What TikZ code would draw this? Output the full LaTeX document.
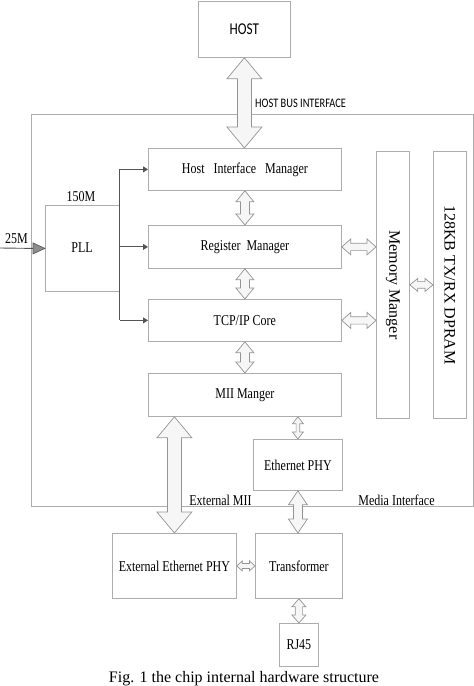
\documentclass[tikz,border=0pt]{standalone}
\usepackage{fontspec}
\setmainfont[FakeStretch=0.8]{Liberation Serif}
\newfontfamily\plainserif{Liberation Serif}
\newfontfamily\condsans[FakeStretch=0.8]{Carlito}
\usetikzlibrary{calc,arrows.meta}
\definecolor{boxc}{gray}{0.68}
\definecolor{arrc}{gray}{0.58}
\definecolor{arrf}{gray}{0.965}
\definecolor{clkc}{gray}{0.33}
\definecolor{trif}{gray}{0.55}
\tikzset{
  box/.style={draw=boxc, line width=0.8pt, inner sep=0pt, anchor=north west, font=\fontsize{15}{18}\selectfont},
  lbl/.style={inner sep=0pt, font=\fontsize{15}{18}\selectfont},
  rlbl/.style={inner sep=0pt, rotate=-90, font=\plainserif\fontsize{16}{19}\selectfont},
  darr/.style={draw=arrc, fill=arrf, line width=0.7pt, line join=miter},
  clkline/.style={draw=clkc, line width=0.9pt},
  clk/.style={draw=clkc, line width=0.9pt, -{Triangle[length=5pt,width=6pt]}},
}
% vertical double arrow: #1 top point, #2 bottom point, #3 half head, #4 half shaft, #5 head length
\newcommand\vdarrow[5]{%
  \path[darr] let \p1=(#1), \p2=(#2) in
    (\x1,\y1) -- (\x1+#3pt,\y1-#5pt) -- (\x1+#4pt,\y1-#5pt) -- (\x1+#4pt,\y2+#5pt) -- (\x1+#3pt,\y2+#5pt)
    -- (\x1,\y2) -- (\x1-#3pt,\y2+#5pt) -- (\x1-#4pt,\y2+#5pt) -- (\x1-#4pt,\y1-#5pt) -- (\x1-#3pt,\y1-#5pt) -- cycle;}
% horizontal double arrow: #1 left point, #2 right point
\newcommand\hdarrow[5]{%
  \path[darr] let \p1=(#1), \p2=(#2) in
    (\x1,\y1) -- (\x1+#5pt,\y1+#3pt) -- (\x1+#5pt,\y1+#4pt) -- (\x2-#5pt,\y1+#4pt) -- (\x2-#5pt,\y1+#3pt)
    -- (\x2,\y1) -- (\x2-#5pt,\y1-#3pt) -- (\x2-#5pt,\y1-#4pt) -- (\x1+#5pt,\y1-#4pt) -- (\x1+#5pt,\y1-#3pt) -- cycle;}
\begin{document}
\begin{tikzpicture}[x=1pt,y=-1pt]
\useasboundingbox (0,0) rectangle (474,686);
% outer chip frame
\node[box, minimum width=442pt, minimum height=392pt] (chip) at (30.5,114) {};
% boxes
\node[box, minimum width=92pt, minimum height=56pt, font=\condsans\fontsize{16.5}{19}\selectfont] (host) at (198,1) {HOST};
\node[box, minimum width=193pt, minimum height=42pt] (him) at (148,148) {Host\hspace{9pt}Interface\hspace{9pt}Manager};
\node[box, minimum width=193pt, minimum height=43pt] (rm) at (148,225) {Register\hspace{6pt}Manager};
\node[box, minimum width=193pt, minimum height=42pt] (tcp) at (148,299) {TCP/IP Core};
\node[box, minimum width=193pt, minimum height=43pt] (mii) at (148,373) {MII Manger};
\node[box, minimum width=33pt, minimum height=267pt] (mem) at (376,151) {};
\node[box, minimum width=33pt, minimum height=267pt] (dpram) at (433,151) {};
\node[rlbl] (memt) at (mem.center) {Memory Manger};
\node[rlbl] (dpramt) at (dpram.center) {128KB TX/RX DPRAM};
\node[box, minimum width=74pt, minimum height=86pt] (pll) at (45,205) {};
\node[lbl] (pllt) at (82,248) {PLL};
\node[box, minimum width=89pt, minimum height=51pt] (ephy) at (253,439) {Ethernet PHY};
\node[box, minimum width=124pt, minimum height=65pt] (ext) at (112,533) {External Ethernet PHY};
\node[box, minimum width=87pt, minimum height=65pt] (trans) at (255,533) {Transformer};
\node[box, minimum width=39pt, minimum height=43pt] (rj) at (279,623) {RJ45};
% labels
\node[anchor=west, inner sep=0pt, font=\condsans\fontsize{13}{15}\selectfont] (hbi) at (255,103) {HOST BUS INTERFACE};
\node[lbl] (f150) at (81,196.5) {150M};
\node[lbl] (f25) at (16.5,239) {25M};
\node[lbl] (emii) at (220.5,500.5) {External MII};
\node[lbl] (media) at (396.5,500.5) {Media Interface};
\node[anchor=base, inner sep=0pt, font=\plainserif\fontsize{16}{19}\selectfont] (cap) at (244,682) {Fig. 1 the chip internal hardware structure};
% clock distribution
\draw[clkline] (pll.east |- him.west) -- (pll.east |- tcp.west);
\draw[clk] (pll.east |- him.west) -- (him.west);
\draw[clk] (pll.east |- rm.west) -- (rm.west);
\draw[clk] (pll.east |- tcp.west) -- (tcp.west);
\coordinate (in25) at (0,248);
\draw[clkline] (in25) -- ($(pll.west)+(-12,0)$);
\draw[draw=clkc, fill=trif, line width=0.6pt, line join=miter] (pll.west) -- ($(pll.west)+(-12,-5.5)$) -- ($(pll.west)+(-12,5.5)$) -- cycle;
% double arrows
\vdarrow{host.south}{host.south |- him.north}{17.5}{7}{21}
\vdarrow{him.south}{rm.north}{9}{4.5}{11}
\vdarrow{rm.south}{tcp.north}{9}{4.5}{11}
\vdarrow{tcp.south}{mii.north}{9}{4.5}{11}
\hdarrow{rm.east}{mem.west |- rm.east}{8}{3.7}{9}
\hdarrow{tcp.east}{mem.west |- tcp.east}{8}{3.7}{9}
\hdarrow{mem.east}{dpram.west}{6.5}{3.3}{8}
\vdarrow{ext.north |- mii.south}{ext.north}{17.5}{7}{21}
\vdarrow{ephy.north |- mii.south}{ephy.north}{5.5}{1.8}{7}
\vdarrow{ephy.south}{ephy.south |- trans.north}{9.5}{4.5}{14}
\hdarrow{ext.east}{trans.west}{5}{2.5}{5.5}
\vdarrow{rj.north |- trans.south}{rj.north}{7}{3.7}{8}
\end{tikzpicture}
\end{document}
